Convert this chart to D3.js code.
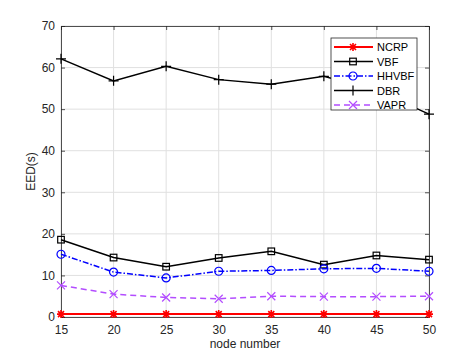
<!DOCTYPE html>
<html>
<head>
<meta charset="utf-8">
<script src="https://cdn.jsdelivr.net/npm/d3@7"></script>
<style>
  body { margin: 0; background: #fff; }
  text { font-family: "Liberation Sans", Arial, sans-serif; }
</style>
</head>
<body>
<svg id="chart" width="474" height="355"></svg>
<script>
// node counts on the x axis
const nodes = [15, 20, 25, 30, 35, 40, 45, 50];

// end-to-end delay (s) per protocol
const ncrp  = [0.7, 0.7, 0.7, 0.7, 0.7, 0.7, 0.7, 0.7];
const vbf   = [18.6, 14.3, 12.1, 14.2, 15.8, 12.6, 14.8, 13.8];
const hhvbf = [15.1, 10.8, 9.4, 11.0, 11.2, 11.6, 11.7, 11.0];
const dbr   = [62.1, 56.8, 60.3, 57.1, 56.0, 57.9, 54.5, 48.8];
const vapr  = [7.6, 5.5, 4.7, 4.4, 5.0, 4.9, 4.9, 5.0];

const xTicks = [15, 20, 25, 30, 35, 40, 45, 50];
const yTicks = [0, 10, 20, 30, 40, 50, 60, 70];

const series = [
    { name: 'NCRP',  values: ncrp,  color: '#ff0000', dash: null,        marker: 'star' },
    { name: 'VBF',   values: vbf,   color: '#000000', dash: null,        marker: 'square' },
    { name: 'HHVBF', values: hhvbf, color: '#0000ff', dash: '6,2,1.5,2', marker: 'circle' },
    { name: 'DBR',   values: dbr,   color: '#000000', dash: null,        marker: 'plus' },
    { name: 'VAPR',  values: vapr,  color: '#b34dff', dash: '6,4',       marker: 'cross' }
];

const svg = d3.select('#chart');
const margin = { left: 61, right: 45, top: 26, bottom: 38 };
const width = 474 - margin.left - margin.right;
const height = 355 - margin.top - margin.bottom;

const x = d3.scaleLinear().domain([15, 50]).range([0, width]);
const y = d3.scaleLinear().domain([0, 70]).range([height, 0]);

const g = svg.append('g').attr('transform', `translate(${margin.left},${margin.top})`);

// grid
g.append('g').selectAll('line')
    .data(xTicks)
    .join('line')
    .attr('x1', d => x(d)).attr('x2', d => x(d))
    .attr('y1', 0).attr('y2', height)
    .attr('stroke', '#e0e0e0').attr('stroke-width', 1);
g.append('g').selectAll('line')
    .data(yTicks)
    .join('line')
    .attr('y1', d => y(d)).attr('y2', d => y(d))
    .attr('x1', 0).attr('x2', width)
    .attr('stroke', '#e0e0e0').attr('stroke-width', 1);

// axes with inward ticks (MATLAB style)
const xAxis = g.append('g').attr('transform', `translate(0,${height})`)
    .call(d3.axisBottom(x).tickValues(xTicks).tickSize(-4).tickPadding(8));
const yAxis = g.append('g')
    .call(d3.axisLeft(y).tickValues(yTicks).tickSize(-4).tickPadding(6));
const xTop = g.append('g')
    .call(d3.axisTop(x).tickValues(xTicks).tickSize(-4).tickFormat(''));
const yRight = g.append('g').attr('transform', `translate(${width},0)`)
    .call(d3.axisRight(y).tickValues(yTicks).tickSize(-4).tickFormat(''));

[xAxis, yAxis, xTop, yRight].forEach(a => {
    a.select('.domain').attr('stroke', '#262626').attr('stroke-width', 0.8);
    a.selectAll('.tick line').attr('stroke', '#262626').attr('stroke-width', 0.8);
    a.selectAll('.tick text').attr('fill', '#262626').style('font-size', '12px');
});

// axis labels
svg.append('text')
    .attr('x', margin.left + width / 2).attr('y', 348)
    .attr('text-anchor', 'middle').attr('fill', '#262626')
    .style('font-size', '12px').text('node number');
svg.append('text')
    .attr('transform', `translate(35,${margin.top + height / 2}) rotate(-90)`)
    .attr('text-anchor', 'middle').attr('fill', '#262626')
    .style('font-size', '12px').text('EED(s)');

function drawMarker(sel, type, color) {
    const s = 4;
    if (type === 'square') {
        sel.append('rect').attr('x', -3.3).attr('y', -3.3).attr('width', 6.6).attr('height', 6.6)
            .attr('fill', 'none').attr('stroke', color).attr('stroke-width', 1.2);
    } else if (type === 'circle') {
        sel.append('circle').attr('r', s)
            .attr('fill', 'none').attr('stroke', color).attr('stroke-width', 1.2);
    } else if (type === 'plus') {
        sel.append('path').attr('d', `M${-s - 1},0H${s + 1}M0,${-s - 1}V${s + 1}`)
            .attr('stroke', color).attr('stroke-width', 1.2);
    } else if (type === 'cross') {
        sel.append('path').attr('d', `M${-s},${-s}L${s},${s}M${-s},${s}L${s},${-s}`)
            .attr('stroke', color).attr('stroke-width', 1.2);
    } else if (type === 'star') {
        sel.append('path')
            .attr('d', `M${-s},0H${s}M0,${-s}V${s}M${-s * 0.75},${-s * 0.75}L${s * 0.75},${s * 0.75}M${-s * 0.75},${s * 0.75}L${s * 0.75},${-s * 0.75}`)
            .attr('stroke', color).attr('stroke-width', 1.6);
    }
}

const line = d3.line()
    .x((d, i) => x(nodes[i]))
    .y(d => y(d));

series.forEach(s => {
    g.append('path')
        .datum(s.values)
        .attr('fill', 'none')
        .attr('stroke', s.color)
        .attr('stroke-width', s.name === 'NCRP' ? 2 : 1.5)
        .attr('stroke-dasharray', s.dash)
        .attr('d', line);
    g.append('g').selectAll('g')
        .data(s.values)
        .join('g')
        .attr('transform', (d, i) => `translate(${x(nodes[i])},${y(d)})`)
        .each(function () { drawMarker(d3.select(this), s.marker, s.color); });
});

// legend
const lg = svg.append('g').attr('transform', 'translate(331,38)');
lg.append('rect')
    .attr('width', 86).attr('height', 72)
    .attr('fill', '#fff').attr('stroke', '#262626').attr('stroke-width', 0.8);
series.forEach((s, i) => {
    const row = lg.append('g').attr('transform', `translate(0,${9 + i * 14.5})`);
    row.append('line')
        .attr('x1', 3).attr('x2', 42).attr('y1', 0).attr('y2', 0)
        .attr('stroke', s.color).attr('stroke-width', s.name === 'NCRP' ? 2 : 1.5)
        .attr('stroke-dasharray', s.dash);
    drawMarker(row.append('g').attr('transform', 'translate(22,0)'), s.marker, s.color);
    row.append('text')
        .attr('x', 46).attr('y', 4)
        .attr('fill', '#000').style('font-size', '11px')
        .text(s.name);
});
</script>
</body>
</html>
